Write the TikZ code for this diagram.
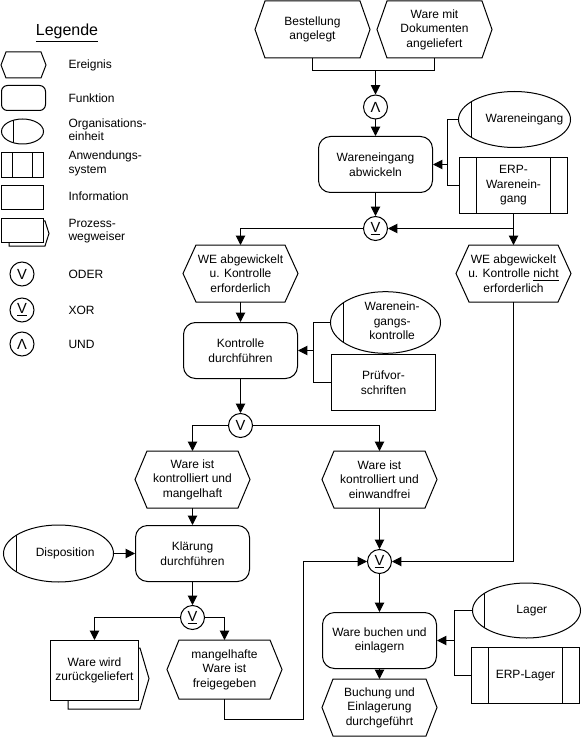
\documentclass[tikz,border=0pt]{standalone}
\usepackage{fontspec}
\setmainfont{Liberation Sans}
\usetikzlibrary{shapes.geometric,arrows.meta,calc}
\newcommand\hexev[2][11]{\draw (#2.west) -- ($(#2.north west)+(#1,0)$) -- ($(#2.north east)+(-#1,0)$) -- (#2.east) -- ($(#2.south east)+(-#1,0)$) -- ($(#2.south west)+(#1,0)$) -- cycle;}
\newcommand\pwback[4]{\draw ($(#1.north east)+(0,#3)$) -- ($(#1.north east)+(1,#3)$) -- ($(#1.east)+(#4,#3)$) -- ($(#1.south east)+(1,#3)$) -- ($(#1.south west)+(#2,#3)$) -- ($(#1.south west)+(#2,0)$);}
\newcommand\otext[2]{\makebox[0pt]{\hspace*{#1}\begin{tabular}{@{}c@{}}#2\end{tabular}}}
\begin{document}
\begin{tikzpicture}[x=0.75pt,y=-0.75pt,line width=0.75pt,
  every node/.style={font=\fontsize{9}{10.9}\selectfont,align=center,inner sep=0pt},
  ev/.style={rectangle,minimum width=114*0.75pt,minimum height=56*0.75pt},
  fn/.style={rectangle,draw,rounded corners=9pt,minimum width=114*0.75pt,minimum height=56*0.75pt},
  org/.style={ellipse,draw,path picture={\draw ([xshift=#1*0.75pt]path picture bounding box.north west) -- ([xshift=#1*0.75pt]path picture bounding box.south west);}},
  org/.default=13,
  app/.style={rectangle,draw,path picture={\draw ([xshift=#1*0.75pt]path picture bounding box.north west) -- ([xshift=#1*0.75pt]path picture bounding box.south west);
     \draw ([xshift=-#1*0.75pt]path picture bounding box.north east) -- ([xshift=-#1*0.75pt]path picture bounding box.south east);}},
  app/.default=17,
  info/.style={rectangle,draw},
  op/.style={circle,draw,minimum size=24*0.75pt,font=\fontsize{11}{11}\selectfont},
  arr/.style={-{Triangle[length=7pt,width=7pt]}},
  lbl/.style={anchor=west,align=left,font=\fontsize{9}{10}\selectfont}]
\useasboundingbox (0,0) rectangle (583,745);

% ---------- Legend ----------
\node[font=\fontsize{12}{14}\selectfont] (leg) at (67,33) {\underline{Legende}};
\node[ev,minimum width=44*0.75pt,minimum height=25*0.75pt] (lev) at (23.5,65) {};
\hexev[5]{lev}
\node[fn,rounded corners=4.5pt,minimum width=44*0.75pt,minimum height=25*0.75pt] (lfn) at (23.5,98) {};
\node[org=12,minimum width=42*0.75pt,minimum height=25*0.75pt] (lorg) at (22.5,131.5) {};
\node[app=11,minimum width=42*0.75pt,minimum height=25*0.75pt] (lapp) at (22.5,165) {};
\node[info,minimum width=42*0.75pt,minimum height=24*0.75pt] (linf) at (22.5,197.5) {};
\node[info,minimum width=42*0.75pt,minimum height=24*0.75pt] (lpw) at (22.5,230.5) {};
\pwback{lpw}{8}{3}{5}
\node[op] (lor) at (22,274) {V};
\node[op] (lxor) at (22,310) {\underline{V}};
\node[op] (land) at (22,344) {Λ};
\node[lbl] at (68,65) {Ereignis};
\node[lbl] at (68,98) {Funktion};
\node[lbl] at (68,130) {Organisations-\\einheit};
\node[lbl] at (68,163.5) {Anwendungs-\\system};
\node[lbl] at (68,196) {Information};
\node[lbl] at (68,231) {Prozess-\\wegweiser};
\node[lbl] at (68,274) {ODER};
\node[lbl] at (68,310) {XOR};
\node[lbl] at (68,344) {UND};

% ---------- Main process ----------
\node[ev] (e1) at (312.5,29.5) {Bestellung\\angelegt};
\node[ev] (e2) at (434.5,29.5) {Ware mit\\Dokumenten\\angeliefert};
\node[op] (and) at (375.5,107) {Λ};
\node[fn] (f1) at (375.5,164.5) {Wareneingang\\abwickeln};
\node[org,minimum width=112*0.75pt,minimum height=56*0.75pt] (o1) at (514.5,119.5) {\otext{15pt}{Wareneingang}};
\node[app,minimum width=108*0.75pt,minimum height=56*0.75pt] (a1) at (513.5,185.5) {ERP-\\Warenein-\\gang};
\node[op] (xor1) at (375.5,228.5) {\underline{V}};
\node[ev] (e3) at (240.5,273.5) {WE abgewickelt\\u. Kontrolle\\erforderlich};
\node[ev] (e4) at (513.5,273.5) {WE abgewickelt\\u. Kontrolle \underline{nicht}\\erforderlich};
\node[fn] (f2) at (240.5,350.5) {Kontrolle\\durchführen};
\node[org,minimum width=110*0.75pt,minimum height=50*0.75pt] (o2) at (385.5,322.5) {\otext{10pt}{Warenein-\\gangs-\\kontrolle}};
\node[info,minimum width=104*0.75pt,minimum height=56*0.75pt] (i1) at (383.5,382.5) {Prüfvor-\\schriften};
\node[op] (xor2) at (240.5,425.5) {V};
\node[ev] (e5) at (192.5,479.5) {Ware ist\\kontrolliert und\\mangelhaft};
\node[ev] (e6) at (379.5,479.5) {Ware ist\\kontrolliert und\\einwandfrei};
\node[fn] (f3) at (192.5,553.5) {Klärung\\durchführen};
\node[org,minimum width=110*0.75pt,minimum height=57*0.75pt] (o3) at (58.5,553.5) {\otext{10pt}{Disposition}};
\node[op] (xor3) at (192.5,617.5) {\underline{V}};
\node[info,minimum width=88*0.75pt,minimum height=60*0.75pt] (p1) at (94.5,670.5) {Ware wird\\zurückgeliefert};
\pwback{p1}{18}{8}{10}
\node[ev,minimum height=58*0.75pt] (e7) at (224.5,669.5) {mangelhafte\\Ware ist\\freigegeben};
\node[op] (xor4) at (379.5,561.5) {\underline{V}};
\node[fn] (f4) at (379.5,640.5) {Ware buchen und\\einlagern};
\node[org=12,minimum width=108*0.75pt,minimum height=55*0.75pt] (o4) at (526.5,610.5) {\otext{8pt}{Lager}};
\node[app,minimum width=108*0.75pt,minimum height=56*0.75pt] (a2) at (525.5,675.5) {ERP-Lager};
\node[ev] (e8) at (379.5,707.5) {Buchung und\\Einlagerung\\durchgeführt};

\hexev[10]{e1}
\hexev[10]{e2}
\hexev[13]{e3}
\hexev[13]{e4}
\hexev[12]{e5}
\hexev[12]{e6}
\hexev[12]{e7}
\hexev[11]{e8}

% ---------- Connectors ----------
\coordinate (j1) at (375.5,70.5);
\draw (e1.south) |- (j1);
\draw (e2.south) |- (j1);
\draw[arr] (j1) -- (and.north);
\draw[arr] (and.south) -- (f1.north);
\coordinate (b1) at (447.5,164.5);
\draw (o1.west) -| (b1) |- (a1.west);
\draw[arr] (b1) -- (f1.east);
\draw[arr] (f1.south) -- (xor1.north);
\draw[arr] (xor1.west) -| (e3.north);
\coordinate (j2) at (513.5,228.5);
\draw[arr] (a1.south) -- (e4.north);
\draw[arr] (j2) -- (xor1.east);
\draw[arr] (e3.south) -- (f2.north);
\coordinate (b2) at (313.5,350.5);
\draw (o2.west) -| (b2) |- (i1.west);
\draw[arr] (b2) -- (f2.east);
\draw[arr] (f2.south) -- (xor2.north);
\draw[arr] (xor2.west) -| (e5.north);
\draw[arr] (xor2.east) -| (e6.north);
\draw[arr] (e5.south) -- (f3.north);
\draw[arr] (o3.east) -- (f3.west);
\draw[arr] (f3.south) -- (xor3.north);
\draw[arr] (xor3.west) -| (p1.north);
\draw[arr] (xor3.east) -| (e7.north);
\coordinate (c1) at (303.5,719.5);
\draw[arr] (e7.south) |- (c1) |- (xor4.west);
\draw[arr] (e6.south) -- (xor4.north);
\draw[arr] (e4.south) |- (xor4.east);
\draw[arr] (xor4.south) -- (f4.north);
\coordinate (b3) at (454.5,640.5);
\draw (o4.west) -| (b3) |- (a2.west);
\draw[arr] (b3) -- (f4.east);
\draw[arr] (f4.south) -- (e8.north);
\end{tikzpicture}
\end{document}
